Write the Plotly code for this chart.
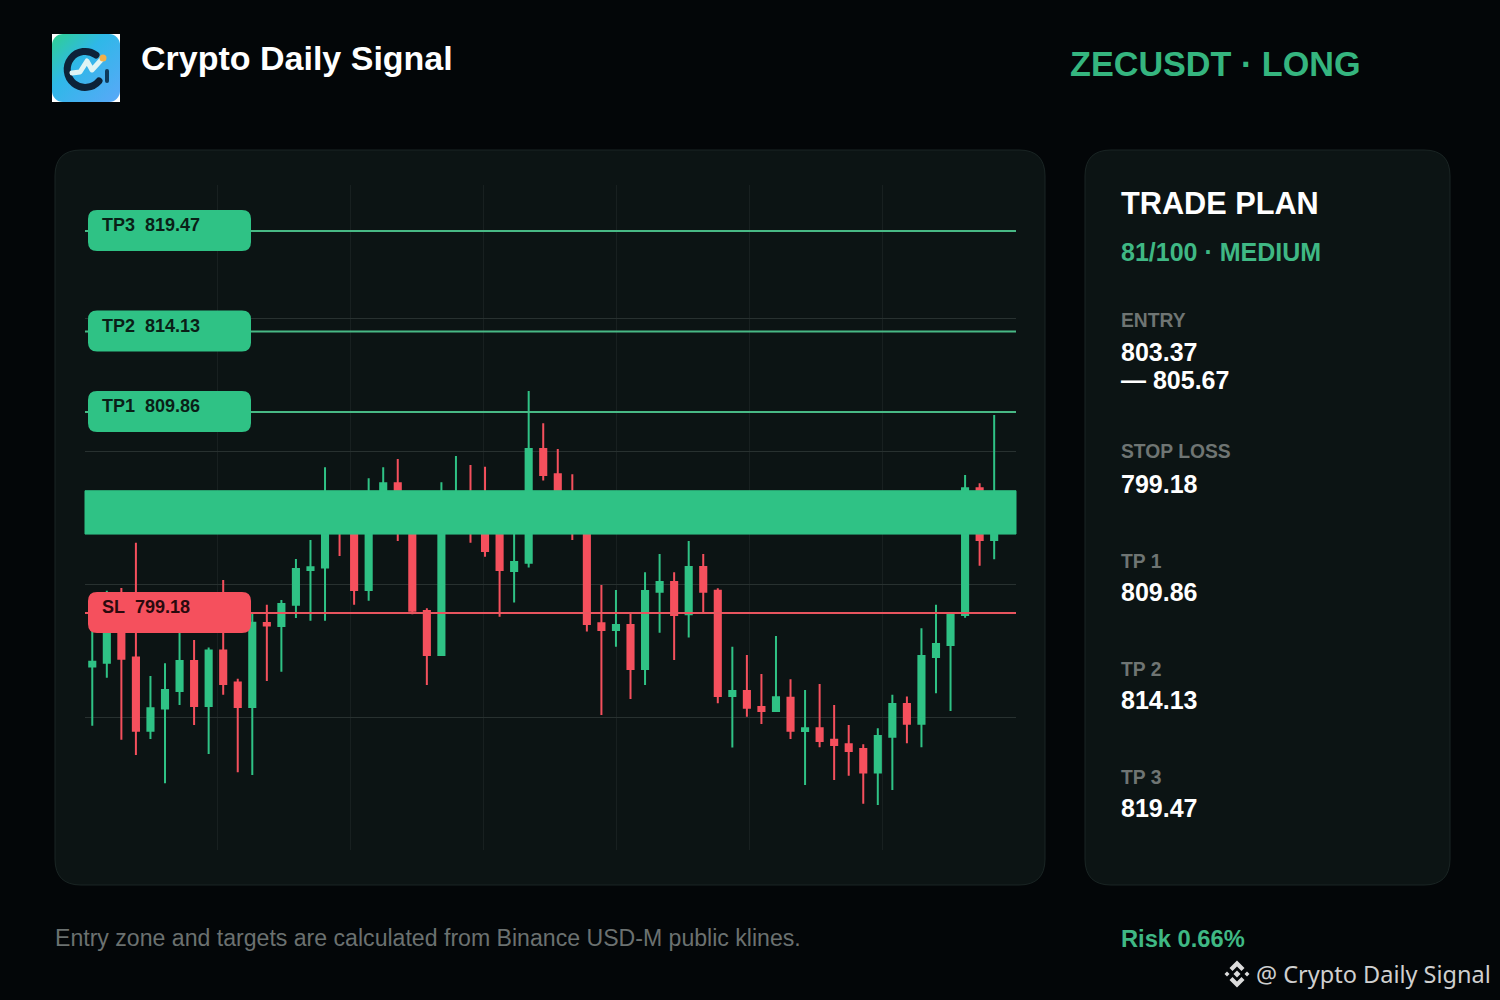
import base64
import plotly.graph_objects as go

# candles (the ones behind the band / labels are guesses)
opens = [796.33, 796.54, 798.28, 796.81, 792.93, 794.10, 795.04, 796.63, 794.24, 797.18,
         795.48, 794.19, 798.65, 798.49, 799.61, 801.46, 801.59, 804.92, 804.65, 800.40,
         804.65, 806.07, 805.45, 799.29, 796.95, 804.12, 805.18, 804.39, 804.12, 801.41,
         801.85, 807.89, 806.55, 805.18, 805.18, 798.63, 798.28, 798.54, 796.21, 800.30,
         800.83, 799.11, 801.62, 800.36, 794.77, 795.04, 794.19, 793.97, 794.67, 792.91,
         793.06, 792.44, 792.21, 791.96, 790.70, 792.61, 794.35, 793.29, 796.84, 797.48,
         799.07, 805.80, 803.06]
highs = [799.07, 800.36, 800.51, 802.91, 795.83, 796.51, 798.28, 797.75, 797.34, 800.93,
         795.68, 799.16, 799.61, 799.87, 802.05, 803.06, 806.92, 805.18, 805.18, 806.33,
         806.92, 807.36, 805.61, 799.43, 806.12, 807.52, 807.04, 806.95, 804.39, 804.12,
         810.97, 809.25, 807.89, 806.55, 805.45, 800.67, 800.40, 799.16, 801.34, 802.31,
         801.34, 803.00, 802.31, 800.49, 797.39, 796.95, 795.94, 797.96, 795.66, 795.09,
         795.41, 794.29, 793.23, 792.21, 793.06, 794.83, 794.74, 798.37, 799.61, 799.07,
         806.51, 806.07, 809.70]
lows = [793.19, 795.74, 792.44, 791.64, 792.49, 790.14, 794.29, 793.23, 791.69, 794.83,
        790.72, 790.58, 795.57, 796.06, 798.91, 798.76, 798.76, 802.21, 799.61, 799.83,
        804.39, 803.00, 799.11, 795.36, 796.90, 803.85, 802.91, 802.17, 798.98, 799.73,
        801.59, 806.21, 804.92, 803.06, 798.19, 793.76, 797.39, 794.61, 795.36, 798.13,
        796.68, 797.87, 799.16, 794.38, 792.03, 793.67, 793.28, 793.97, 792.49, 790.04,
        792.05, 790.31, 790.54, 789.04, 788.98, 789.78, 792.26, 792.05, 794.92, 793.97,
        798.93, 801.69, 802.03]
closes = [796.59, 798.54, 796.75, 792.93, 794.12, 795.09, 796.63, 794.24, 797.18, 795.41,
          794.19, 798.66, 798.51, 799.66, 801.52, 801.61, 805.45, 803.85, 800.40, 805.18,
          806.07, 804.12, 799.30, 796.95, 805.45, 804.92, 804.39, 802.47, 801.46, 801.89,
          807.89, 806.51, 805.18, 804.12, 798.60, 798.28, 798.54, 796.21, 800.35, 800.83,
          799.07, 801.62, 800.30, 794.77, 795.04, 794.15, 793.97, 794.70, 792.93, 793.06,
          792.38, 792.17, 791.85, 790.70, 792.65, 794.35, 793.29, 796.90, 797.53, 799.07,
          805.80, 803.06, 804.65]
candle_idx = list(range(len(opens)))

entry_low, entry_high = 803.37, 805.67
stop_loss = 799.18
tp_levels = {"TP1": 809.86, "TP2": 814.13, "TP3": 819.47}
y_grid = [793.62, 800.68, 807.74, 814.81]
x_grid = [8.64, 17.78, 26.92, 36.06, 45.2, 54.34]

GREEN = "#2fc285"
RED = "#f5505d"
BG = "#030608"
PANEL = "#0c1414"
EDGE = "#1a2524"

X0, X1, Y0, Y1 = 85, 1016, 185, 850
Y_MIN, Y_MAX = 786.59, 821.91


def px(x):
    return x / 1500


def py(y):
    return 1 - y / 1000


def level_y(price):
    # price -> pixel row of the chart area
    return Y0 + (Y_MAX - price) / (Y_MAX - Y_MIN) * (Y1 - Y0)


def rrect(x0, y0, x1, y1, r, fill, line=None):
    # rounded box given in page pixels
    path = (f"M {px(x0 + r)} {py(y0)} L {px(x1 - r)} {py(y0)} Q {px(x1)} {py(y0)} {px(x1)} {py(y0 + r)} "
            f"L {px(x1)} {py(y1 - r)} Q {px(x1)} {py(y1)} {px(x1 - r)} {py(y1)} "
            f"L {px(x0 + r)} {py(y1)} Q {px(x0)} {py(y1)} {px(x0)} {py(y1 - r)} "
            f"L {px(x0)} {py(y0 + r)} Q {px(x0)} {py(y0)} {px(x0 + r)} {py(y0)} Z")
    return dict(type="path", path=path, xref="paper", yref="paper", fillcolor=fill,
                line=dict(color=line or fill, width=1 if line else 0))


def svg_uri(svg):
    return "data:image/svg+xml;base64," + base64.b64encode(svg.encode()).decode()


logo_svg = """<svg xmlns="http://www.w3.org/2000/svg" viewBox="0 0 68 68">
<defs><linearGradient id="g" x1="0" y1="0" x2="1" y2="1">
<stop offset="0" stop-color="#2fd08f"/><stop offset="0.4" stop-color="#2fb8e8"/><stop offset="1" stop-color="#5aa8f8"/></linearGradient></defs>
<rect width="68" height="68" fill="#ffffff"/><rect width="68" height="68" rx="11" fill="url(#g)"/>
<path d="M44 21 A18 18 0 1 0 47 47" fill="none" stroke="#0d2238" stroke-width="7" stroke-linecap="round"/>
<path d="M20 39 L28 38 L35 27 L40 36 L50 25" fill="none" stroke="#dff4f4" stroke-width="5" stroke-linecap="round" stroke-linejoin="round"/>
<circle cx="51" cy="24" r="3.5" fill="#f2b04a"/>
<rect x="53" y="35" width="4" height="14" rx="2" fill="#0d3a5c"/></svg>"""

icon_svg = """<svg xmlns="http://www.w3.org/2000/svg" viewBox="0 0 28 28" fill="#dcdcdc">
<path d="M14 0.5 L21.5 8 L18.5 11 L14 6.5 L9.5 11 L6.5 8 Z"/>
<path d="M14 27.5 L6.5 20 L9.5 17 L14 21.5 L18.5 17 L21.5 20 Z"/>
<path d="M14 10.5 L17.5 14 L14 17.5 L10.5 14 Z"/>
<path d="M4 11.5 L6.5 14 L4 16.5 L1.5 14 Z"/><path d="M24 11.5 L26.5 14 L24 16.5 L21.5 14 Z"/></svg>"""

fig = go.Figure()
fig.add_trace(go.Candlestick(
    x=candle_idx, open=opens, high=highs, low=lows, close=closes,
    increasing=dict(line=dict(color=GREEN, width=2), fillcolor=GREEN),
    decreasing=dict(line=dict(color=RED, width=2), fillcolor=RED),
    whiskerwidth=0, showlegend=False, hoverinfo="skip",
))

shapes = [
    rrect(55, 150, 1045, 885, 26, PANEL, EDGE),
    rrect(1085, 150, 1450, 885, 26, PANEL, EDGE),
]
for p in shapes:
    p["layer"] = "below"

# entry band and levels sit on top of the candles
shapes.append(dict(type="rect", xref="x domain", x0=0, x1=1, yref="y", y0=entry_low, y1=entry_high,
                   fillcolor=GREEN, line=dict(color=GREEN, width=1), layer="above"))
shapes.append(dict(type="line", xref="x domain", x0=0, x1=1, yref="y", y0=stop_loss, y1=stop_loss,
                   line=dict(color="#e8555f", width=2), layer="above"))
for name, lv in tp_levels.items():
    shapes.append(dict(type="line", xref="x domain", x0=0, x1=1, yref="y", y0=lv, y1=lv,
                       line=dict(color="#48b985", width=2), layer="above"))

annotations = []


def text(x, y, s, size, color, bold=False, family="Liberation Sans", anchor="left"):
    # annotations carry a little padding, so pull them back to the wanted x
    annotations.append(dict(
        x=px(x - 2.5), y=py(y), xref="paper", yref="paper", xanchor=anchor, yanchor="middle",
        text=f"<b>{s}</b>" if bold else s, showarrow=False,
        font=dict(family=family, size=size, color=color),
    ))


for name, lv in tp_levels.items():
    cy = level_y(lv)
    shapes.append(rrect(88, cy - 21, 251, cy + 20, 9, GREEN))
    text(102, cy - 5.5, f"{name}\u00a0\u00a0{lv:.2f}", 18, "#0a1f17", bold=True)
cy = level_y(stop_loss)
shapes.append(rrect(88, cy - 21, 251, cy + 20, 9, RED))
text(102, cy - 5.5, f"SL\u00a0\u00a0{stop_loss:.2f}", 18, "#2a0a0e", bold=True)

text(141, 58, "Crypto Daily Signal", 34, "#ffffff", bold=True)
text(1070, 64, "ZECUSDT · LONG", 34.2, "#35b57f", bold=True)

text(1121, 204, "TRADE PLAN", 30.7, "#ffffff", bold=True)
text(1121, 252, "81/100 · MEDIUM", 25, "#3fb884", bold=True)

side_rows = [
    ("ENTRY", 321, f"{entry_low:.2f}", 352),
    ("STOP LOSS", 452, f"{stop_loss:.2f}", 484),
    ("TP 1", 561, f"{tp_levels['TP1']:.2f}", 592),
    ("TP 2", 669, f"{tp_levels['TP2']:.2f}", 700),
    ("TP 3", 777, f"{tp_levels['TP3']:.2f}", 808),
]
for label, ly, value, vy in side_rows:
    text(1121, ly, label, 19.3, "#6f7573", bold=True)
    text(1121, vy, value, 25, "#ffffff", bold=True)
text(1121, 380, f"— {entry_high:.2f}", 25, "#ffffff", bold=True)

text(55, 938, "Entry zone and targets are calculated from Binance USD-M public klines.", 23.1, "#6b7170")
text(1121, 939, "Risk 0.66%", 23.7, "#3fb884", bold=True)
text(1256, 974, "@ Crypto Daily Signal", 23.5, "#cfcfcf", family="Noto Sans")

images = [
    dict(source=svg_uri(logo_svg), xref="paper", yref="paper", x=px(52), y=py(34), sizex=68 / 1500,
         sizey=68 / 1000, xanchor="left", yanchor="top", layer="above", sizing="stretch"),
    dict(source=svg_uri(icon_svg), xref="paper", yref="paper", x=px(1223), y=py(960), sizex=28 / 1500,
         sizey=28 / 1000, xanchor="left", yanchor="top", layer="above", sizing="stretch"),
]

fig.update_layout(
    width=1500, height=1000, margin=dict(l=0, r=0, t=0, b=0),
    paper_bgcolor=BG, plot_bgcolor="rgba(0,0,0,0)",
    boxgap=0.4, showlegend=False,
    shapes=shapes, annotations=annotations, images=images,
    xaxis=dict(domain=[px(X0), px(X1)], range=[-0.5, 63.5], rangeslider=dict(visible=False),
               showticklabels=False, ticks="", zeroline=False, showline=False,
               tickmode="array", tickvals=x_grid, gridcolor="#182020", gridwidth=1),
    yaxis=dict(domain=[py(Y1), py(Y0)], range=[Y_MIN, Y_MAX],
               showticklabels=False, ticks="", zeroline=False, showline=False,
               tickmode="array", tickvals=y_grid, gridcolor="#283130", gridwidth=1),
)

fig.write_html("out.html", config={"displayModeBar": False},
               post_script="document.body.style.margin='0';document.body.style.background='#030608';")
